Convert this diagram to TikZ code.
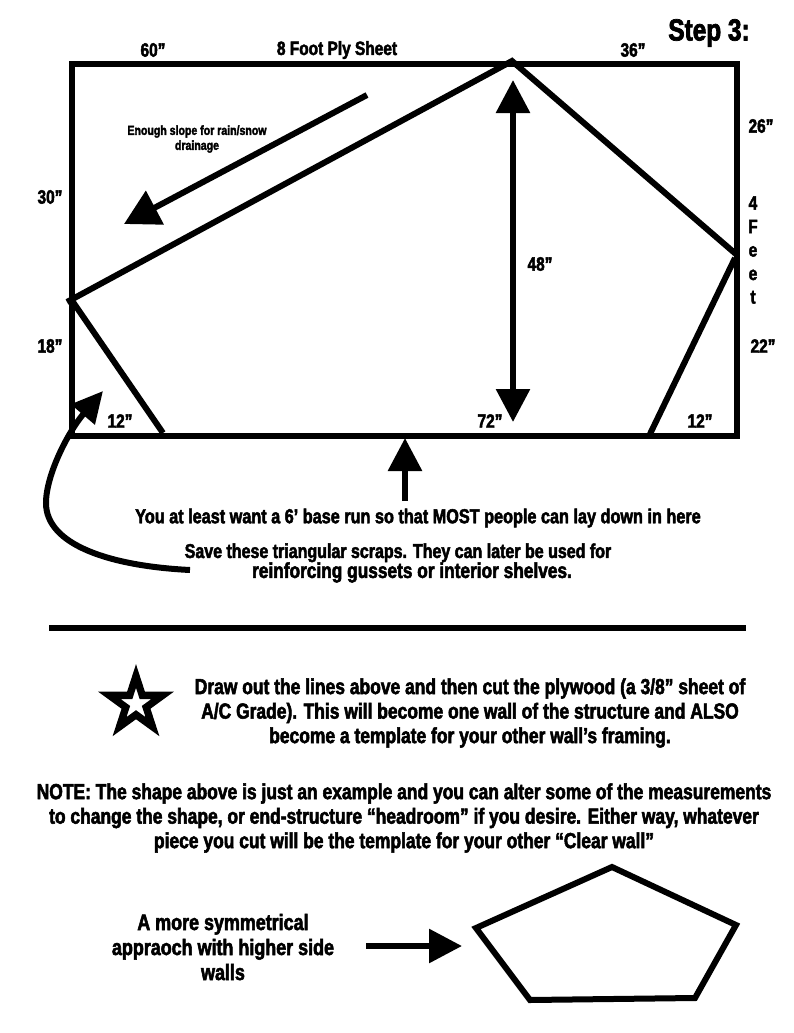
\documentclass[tikz,border=0pt]{standalone}
\usepackage{fontspec}
\setmainfont{Liberation Sans}[BoldFeatures={FakeStretch=0.8,FakeBold=2.4}]
\usetikzlibrary{arrows.meta,shapes.geometric}
\tikzset{
  cutline/.style={line width=6pt},
  bigarrow/.style={line width=6pt,-{Triangle[length=33pt,width=33pt]}},
  dimtext/.style={font=\bfseries\fontsize{19.3}{23}\selectfont,inner sep=0pt},
  bodytext/.style={font=\bfseries\fontsize{21.8}{24.5}\selectfont,align=center,inner sep=0pt},
  smalltext/.style={font=\bfseries\fontsize{13.2}{15}\selectfont,align=center,inner sep=0pt}
}
\begin{document}
\begin{tikzpicture}[x=1pt,y=-1pt]
\useasboundingbox (0,0) rectangle (794,1033);
\coordinate (TL) at (71.5,64);
\coordinate (TR) at (737,64);
\coordinate (BR) at (737,436);
\coordinate (BL) at (71.5,436);
\coordinate (peak) at (512,61);
\coordinate (rightcut) at (737,255);
\coordinate (leftcut) at (67,302);
\draw[cutline,line join=miter] (TL) -- (TR) -- (BR) -- (BL) -- cycle;
\draw[cutline] (leftcut) -- (peak) -- (rightcut);
\draw[cutline] (73,302) -- (163,433);
\draw[cutline] (735,258) -- (650,434);
\coordinate (slopestart) at (367,95);
\coordinate (slopetip) at (124,224);
\draw[line width=6pt,-{Triangle[length=35pt,width=37pt]}] (slopestart) -- (slopetip);
\coordinate (hightop) at (513,80);
\coordinate (highbottom) at (513,422);
\draw[line width=6pt,{Triangle[length=33pt,width=33pt]}-{Triangle[length=33pt,width=33pt]}] (hightop) -- (highbottom);
\coordinate (basefoot) at (405,501);
\coordinate (basetip) at (405,438);
\draw[bigarrow] (basefoot) -- (basetip);
\coordinate (scrapstart) at (190,570);
\coordinate (scrapbend) at (46,503);
\coordinate (scraptip) at (103,391);
\draw[line width=6pt,-{Triangle[length=31pt,width=30pt]}] (scrapstart) .. controls (110,566) and (46,545) .. (scrapbend) .. controls (46,475) and (68,432) .. (scraptip);
\coordinate (ruleleft) at (49,628);
\coordinate (ruleright) at (746,628);
\draw[cutline] (ruleleft) -- (ruleright);
\node (star) [star,star points=5,star point ratio=2.618,draw,line width=7.3pt,minimum size=56pt,inner sep=0pt] at (136,704) {};
\coordinate (smallarrowstart) at (366,946);
\coordinate (smallarrowtip) at (462,946);
\draw[bigarrow] (smallarrowstart) -- (smallarrowtip);
\coordinate (ptop) at (612,867);
\coordinate (pright) at (736,925);
\coordinate (pbr) at (695,998);
\coordinate (pbl) at (530,1000);
\coordinate (pleft) at (476,928);
\draw[cutline,line join=miter] (ptop) -- (pright) -- (pbr) -- (pbl) -- (pleft) -- cycle;
\node (steplabel) [dimtext,font=\bfseries\fontsize{30.5}{35}\selectfont] at (709,33) {Step 3:};
\node (sixty) [dimtext] at (153,50) {60”};
\node (sheet) [dimtext] at (337,50) {8 Foot Ply Sheet};
\node (thirtysix) [dimtext] at (633,50) {36”};
\node (twentysix) [dimtext] at (761,126) {26”};
\node (thirty) [dimtext] at (50,197) {30”};
\node (eighteen) [dimtext] at (50,346) {18”};
\node (twentytwo) [dimtext] at (763,346) {22”};
\node (fortyeight) [dimtext] at (540,264) {48”};
\node (twelveleft) [dimtext] at (120,421) {12”};
\node (seventytwo) [dimtext] at (490,421) {72”};
\node (twelveright) [dimtext] at (700,421) {12”};
\node (fourfeet) [dimtext,align=center,font=\bfseries\fontsize{19.3}{23.5}\selectfont] at (753,250) {4\\F\\e\\e\\t};
\node (slopetext) [smalltext] at (197,139) {Enough slope for rain/snow\\drainage};
\node (basetext) [bodytext,font=\bfseries\fontsize{20.3}{24.5}\selectfont] at (418,518) {You at least want a 6’ base run so that MOST people can lay down in here};
\node (scraptext) [bodytext,font=\bfseries\fontsize{20}{20}\selectfont] at (398,563) {Save these triangular scraps. They can later be used for\\\hspace*{28pt}\fontsize{21.6}{20}\selectfont reinforcing gussets or interior shelves.};
\node (drawtext) [bodytext] at (470,713) {Draw out the lines above and then cut the plywood (a 3/8” sheet of\\A/C Grade). This will become one wall of the structure and ALSO\\become a template for your other wall’s framing.};
\node (notetext) [bodytext] at (404,818) {NOTE: The shape above is just an example and you can alter some of the measurements\\to change the shape, or end-structure “headroom” if you desire. Either way, whatever\\piece you cut will be the template for your other “Clear wall”};
\node (symtext) [bodytext,font=\bfseries\fontsize{22.4}{25}\selectfont] at (223,947) {A more symmetrical\\appraoch with higher side\\walls};
\end{tikzpicture}
\end{document}
